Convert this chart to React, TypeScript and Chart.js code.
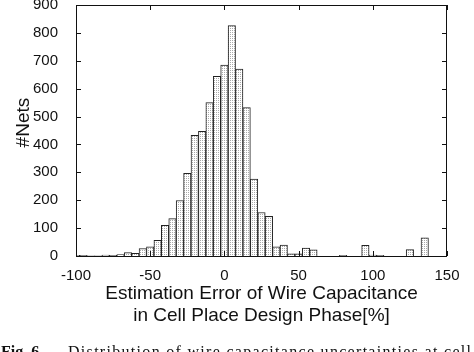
import React, { useEffect, useRef } from "react";
import { Chart, registerables } from "chart.js";

Chart.register(...registerables);

// Histogram bin centres (%), bin width 5
const binCenters = [
  -100, -95, -90, -85, -80, -75, -70, -65, -60, -55, -50, -45, -40, -35, -30, -25,
  -20, -15, -10, -5, 0, 5, 10, 15, 20, 25, 30, 35, 40, 45, 50, 55, 60, 65, 70, 75,
  80, 85, 90, 95, 100, 105, 110, 115, 120, 125, 130, 135,
];
const netCounts = [
  2, 2, 1, 1, 3, 2, 5, 12, 10, 27, 33, 56, 110, 134, 199, 296,
  433, 447, 550, 644, 685, 826, 670, 532, 276, 156, 142, 33, 39, 8, 8, 28, 22, 0, 0, 0,
  2, 0, 0, 38, 3, 2, 0, 0, 0, 23, 0, 65,
];
const xTicks = [-100, -50, 0, 50, 100, 150];
const yTicks = [0, 100, 200, 300, 400, 500, 600, 700, 800, 900];
const xTitle = ["Estimation Error of Wire Capacitance", "in Cell Place Design Phase[%]"];
const yTitle = "#Nets";
const captionBold = "Fig. 6";
const captionText = "Distribution of wire capacitance uncertainties at cell place design phase.";

function makePattern(): CanvasPattern | string {
  const c = document.createElement("canvas");
  c.width = 2;
  c.height = 2;
  const g = c.getContext("2d");
  if (!g) return "#ddd";
  g.fillStyle = "#ffffff";
  g.fillRect(0, 0, 2, 2);
  g.fillStyle = "#aaaaaa";
  g.fillRect(0, 0, 1, 1);
  const p = g.createPattern(c, "repeat");
  return p || "#ddd";
}

const framePlugin = {
  id: "frameAndTicks",
  afterDraw(chart: any) {
    const { ctx, chartArea } = chart;
    const { left, right, top, bottom } = chartArea;
    const xs = chart.scales.x;
    const ys = chart.scales.y;
    ctx.save();
    ctx.strokeStyle = "#111";
    ctx.lineWidth = 1;
    ctx.strokeRect(left + 0.5, top + 0.5, right - left - 1, bottom - top);
    const L = 5;
    ctx.beginPath();
    for (const v of xTicks) {
      const px = Math.round(xs.getPixelForValue(v)) + 0.5;
      ctx.moveTo(px, top);
      ctx.lineTo(px, top + L);
      ctx.moveTo(px, bottom);
      ctx.lineTo(px, bottom - L);
    }
    for (const v of yTicks) {
      const py = Math.round(ys.getPixelForValue(v)) + 0.5;
      ctx.moveTo(left, py);
      ctx.lineTo(left + L, py);
      ctx.moveTo(right, py);
      ctx.lineTo(right - L, py);
    }
    ctx.stroke();

    // caption
    ctx.fillStyle = "#111";
    ctx.textBaseline = "alphabetic";
    ctx.textAlign = "left";
    ctx.font = "bold 16px 'Liberation Serif', serif";
    ctx.fillText(captionBold, 1, 357);
    ctx.font = "16px 'Liberation Serif', serif";
    try {
      (ctx as any).letterSpacing = "1.3px";
    } catch (e) {}
    ctx.fillText(captionText, 68, 357);
    ctx.restore();
  },
};

export default function App() {
  const ref = useRef<HTMLCanvasElement | null>(null);
  useEffect(() => {
    document.body.style.margin = "0";
    const canvas = ref.current;
    if (!canvas) return;
    const pattern = makePattern();
    const chart = new Chart(canvas, {
      type: "bar",
      data: {
        datasets: [
          {
            data: binCenters.map((x, i) => ({ x, y: netCounts[i] })),
            backgroundColor: pattern as any,
            borderColor: "#222",
            borderWidth: 1,
            barPercentage: 1,
            categoryPercentage: 1,
            grouped: false,
          } as any,
        ],
      },
      options: {
        animation: false,
        responsive: false,
        maintainAspectRatio: false,
        layout: { padding: { top: 5, right: 27, left: 0, bottom: 0 } },
        plugins: { legend: { display: false }, tooltip: { enabled: false } },
        scales: {
          x: {
            type: "linear",
            offset: false,
            min: -100,
            max: 150,
            afterBuildTicks: (s: any) => {
              s.ticks = xTicks.map((v) => ({ value: v }));
            },
            afterFit: (s: any) => {
              s.height = 96;
              s.paddingLeft = 0;
              s.paddingRight = 0;
            },
            grid: { display: false },
            border: { display: false },
            ticks: {
              color: "#111",
              padding: 3,
              maxRotation: 0,
              font: { family: "'Liberation Sans', Arial, sans-serif", size: 15 },
            },
            title: {
              display: true,
              text: xTitle,
              color: "#111",
              padding: { top: 0, bottom: 25 },
              font: { family: "'Liberation Sans', Arial, sans-serif", size: 19, lineHeight: 1.15 },
            },
          },
          y: {
            min: 0,
            max: 900,
            afterBuildTicks: (s: any) => {
              s.ticks = yTicks.map((v) => ({ value: v }));
            },
            afterFit: (s: any) => {
              s.width = 76;
              s.paddingTop = 0;
              s.paddingBottom = 0;
            },
            grid: { display: false },
            border: { display: false },
            ticks: {
              color: "#111",
              padding: 10,
              font: { family: "'Liberation Sans', Arial, sans-serif", size: 15 },
            },
            title: {
              display: true,
              text: "   " + yTitle,
              color: "#111",
              padding: { top: 12, bottom: 0 },
              font: { family: "'Liberation Sans', Arial, sans-serif", size: 19, lineHeight: 1.2 },
            },
          },
        },
      } as any,
      plugins: [framePlugin],
    });
    return () => chart.destroy();
  }, []);
  return <canvas ref={ref} width={474} height={352} style={{ display: "block" }} />;
}
